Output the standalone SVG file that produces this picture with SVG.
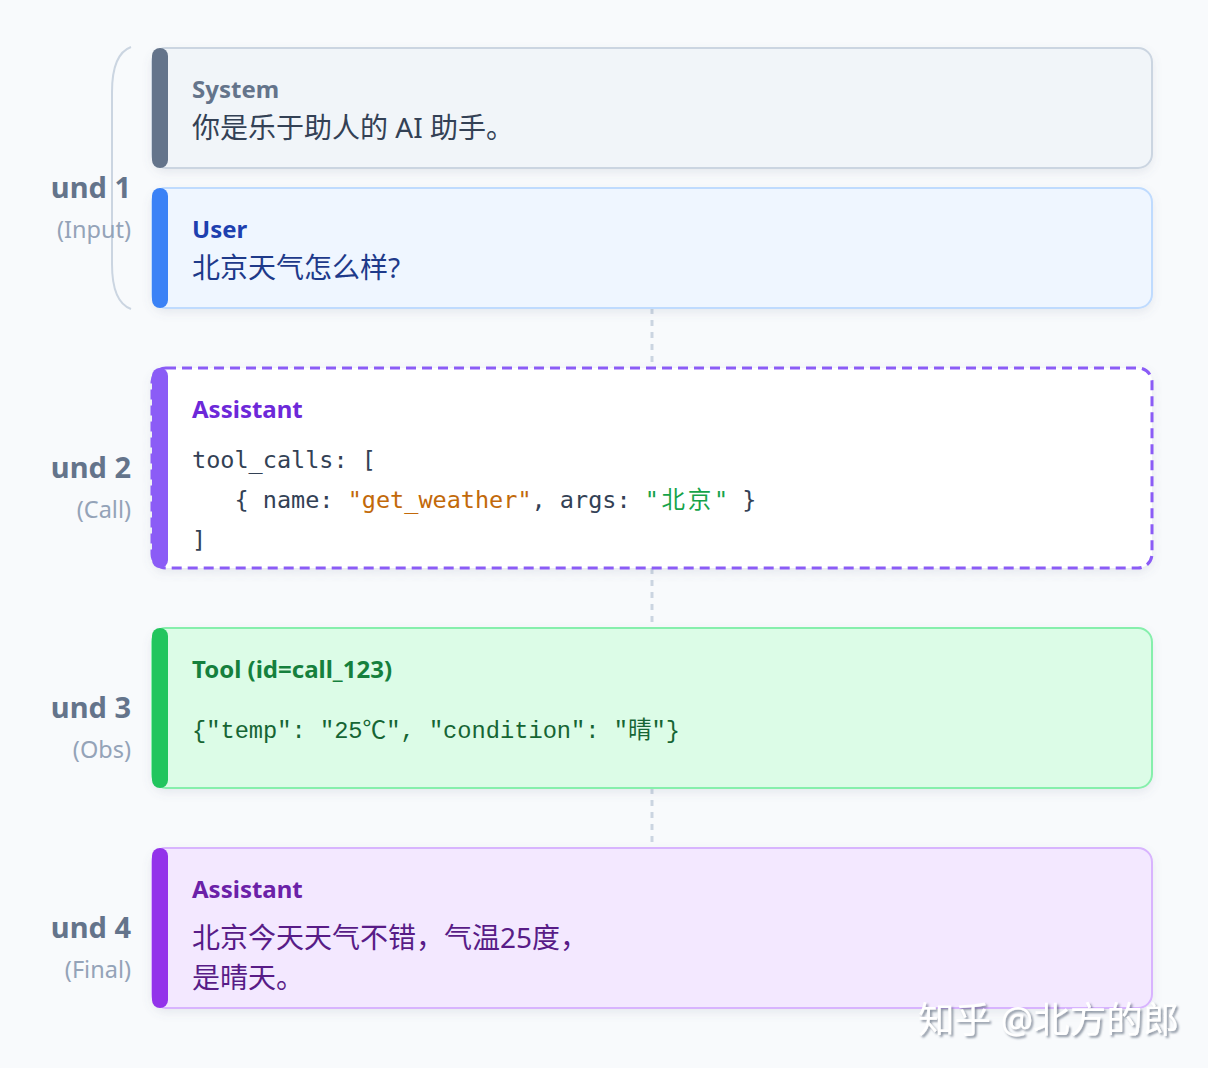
<svg xmlns="http://www.w3.org/2000/svg" width="1208" height="1068" viewBox="0 0 1208 1068">
<defs>
<filter id="sh" x="-5%" y="-20%" width="110%" height="150%">
<feDropShadow dx="0" dy="4" stdDeviation="5" flood-color="#64748b" flood-opacity="0.12"/>
</filter>
<filter id="wm" x="-5%" y="-20%" width="110%" height="150%">
<feDropShadow dx="2" dy="2" stdDeviation="1" flood-color="#475569" flood-opacity="0.6"/>
</filter>
<style>
.sans{font-family:"Noto Sans","Noto Sans CJK SC",sans-serif}
.mono{font-family:"DejaVu Sans Mono","Noto Sans CJK SC",monospace}
.serifmono{font-family:"Liberation Mono","Noto Sans CJK SC",monospace}
.title{font-size:24px;font-weight:700}
.body{font-size:28px}
.step{font-size:29px;font-weight:700;fill:#64748b;text-anchor:end}
.sub{font-size:23.5px;fill:#94a3b8;text-anchor:end}
.conn{stroke:#cbd5e1;stroke-width:3;stroke-dasharray:6 6;fill:none}
</style>
</defs>
<rect width="1208" height="1068" fill="#f8fafc"/>

<g id="connectors">
<line class="conn" x1="652" y1="308" x2="652" y2="368"/>
<line class="conn" x1="652" y1="568" x2="652" y2="628"/>
<line class="conn" x1="652" y1="788" x2="652" y2="848"/>
<path d="M131,47 Q112,54 112,92 L112,264 Q112,302 131,309" fill="none" stroke="#cbd5e1" stroke-width="2"/>
</g>

<g id="labels" class="sans">
<text class="step" x="131" y="198">und 1</text>
<text class="sub" x="131" y="238">(Input)</text>
<text class="step" x="131" y="478">und 2</text>
<text class="sub" x="131" y="518">(Call)</text>
<text class="step" x="131" y="718">und 3</text>
<text class="sub" x="131" y="758">(Obs)</text>
<text class="step" x="131" y="938">und 4</text>
<text class="sub" x="131" y="978">(Final)</text>
</g>

<g id="system">
<rect x="152" y="48" width="1000" height="120" rx="14" fill="#f1f5f9" stroke="#cbd5e1" stroke-width="2" filter="url(#sh)"/>
<rect x="152" y="48" width="16" height="120" rx="8" fill="#64748b"/>
<text class="sans title" x="192" y="98" fill="#64748b">System</text>
<text class="sans body" x="192" y="138" fill="#334155">你是乐于助人的 AI 助手。</text>
</g>

<g id="user">
<rect x="152" y="188" width="1000" height="120" rx="14" fill="#eff6ff" stroke="#bfdbfe" stroke-width="2" filter="url(#sh)"/>
<rect x="152" y="188" width="16" height="120" rx="8" fill="#3b82f6"/>
<text class="sans title" x="192" y="238" fill="#1e40af">User</text>
<text class="sans body" x="192" y="278" fill="#1e3a8a">北京天气怎么样?</text>
</g>

<g id="assistant-call">
<rect x="152" y="368" width="1000" height="200" rx="14" fill="#ffffff" stroke="#8b5cf6" stroke-width="3" stroke-dasharray="10 6" filter="url(#sh)"/>
<rect x="152" y="368" width="16" height="200" rx="8" fill="#8b5cf6"/>
<text class="sans title" x="192" y="418" fill="#6d28d9">Assistant</text>
<text class="mono" font-size="23.5" x="192" y="468" fill="#334155">tool_calls: [</text>
<text class="mono" font-size="23.5" x="192" y="508" fill="#334155" xml:space="preserve">   { name: <tspan fill="#c2690a">"get_weather"</tspan>, args: <tspan fill="#16a34a"><tspan letter-spacing="2.7">"北京</tspan>"</tspan> }</text>
<text class="mono" font-size="23.5" x="192" y="548" fill="#334155">]</text>
</g>

<g id="tool">
<rect x="152" y="628" width="1000" height="160" rx="14" fill="#dcfce7" stroke="#86efac" stroke-width="2" filter="url(#sh)"/>
<rect x="152" y="628" width="16" height="160" rx="8" fill="#22c55e"/>
<text class="sans title" x="192" y="678" fill="#15803d">Tool (id=call_123)</text>
<text class="serifmono" font-size="23.7" x="192" y="738" fill="#166534">{"temp": "25℃", "condition": "晴"}</text>
</g>

<g id="assistant-final">
<rect x="152" y="848" width="1000" height="160" rx="14" fill="#f3e8ff" stroke="#d8b4fe" stroke-width="2" filter="url(#sh)"/>
<rect x="152" y="848" width="16" height="160" rx="8" fill="#9333ea"/>
<text class="sans title" x="192" y="898" fill="#6b21a8">Assistant</text>
<text class="sans body" x="192" y="948" fill="#581c87">北京今天天气不错，气温25度，</text>
<text class="sans body" x="192" y="988" fill="#581c87">是晴天。</text>
</g>

<g id="watermark">
<text class="sans" x="918" y="1033" font-size="36.5" fill="#ffffff" filter="url(#wm)">知乎 @北方的郎</text>
</g>
</svg>
